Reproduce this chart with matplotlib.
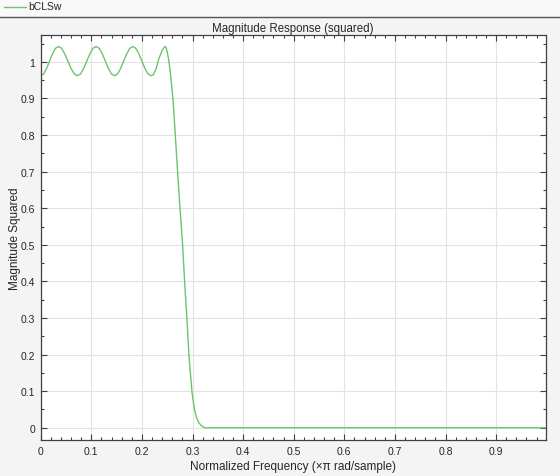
import matplotlib
matplotlib.use("Agg")
import matplotlib.pyplot as plt
from matplotlib.ticker import MultipleLocator, FixedLocator
from matplotlib.lines import Line2D

plt.rcParams['font.family'] = ['Liberation Sans', 'DejaVu Sans']

# Normalized frequency (x pi rad/sample) and magnitude squared
freq = [0.0, 0.0058, 0.0117, 0.0175, 0.0233, 0.0292, 0.035,
        0.0413, 0.0475, 0.0538, 0.06, 0.0663, 0.0725,
        0.0787, 0.0848, 0.091, 0.0972, 0.1033, 0.1095,
        0.1156, 0.1217, 0.1278, 0.1338, 0.1399, 0.146,
        0.152, 0.158, 0.164, 0.170, 0.176, 0.182,
        0.188, 0.194, 0.200, 0.206, 0.212, 0.218,
        0.2227, 0.2278, 0.233, 0.2397, 0.2435, 0.2462,
        0.2485, 0.2509, 0.2535, 0.2562, 0.2594, 0.2615, 0.266, 0.2705, 0.2753,
        0.2806, 0.2845, 0.289, 0.293, 0.299, 0.3037, 0.308, 0.312,
        0.317, 0.3215, 0.3255, 0.33, 0.998]
mag2 = [0.962, 0.967, 0.982, 1.002, 1.022, 1.037, 1.042,
        1.037, 1.022, 1.002, 0.982, 0.967, 0.962,
        0.967, 0.982, 1.002, 1.022, 1.037, 1.042,
        1.037, 1.022, 1.002, 0.982, 0.967, 0.962,
        0.967, 0.982, 1.002, 1.022, 1.037, 1.042,
        1.037, 1.022, 1.002, 0.982, 0.967, 0.962,
        0.965, 0.980, 1.007, 1.030, 1.039, 1.042,
        1.036, 1.021, 1.0, 0.971, 0.926, 0.898, 0.8, 0.7, 0.6,
        0.497, 0.397, 0.297, 0.197, 0.097, 0.051, 0.028, 0.015,
        0.006, 0.002, 0.0, 0.0, 0.0]

series_name = "bCLSw"
title = "Magnitude Response (squared)"
xlabel = "Normalized Frequency (\u00d7\u03c0 rad/sample)"
ylabel = "Magnitude Squared"
xticks = [0, 0.1, 0.2, 0.3, 0.4, 0.5, 0.6, 0.7, 0.8, 0.9]
yticks = [0, 0.1, 0.2, 0.3, 0.4, 0.5, 0.6, 0.7, 0.8, 0.9, 1]

W, H = 560, 477
fig = plt.figure(figsize=(W / 100, H / 100), dpi=100)
fig.patch.set_facecolor('#f4f4f4')

# legend strip
strip = fig.add_axes([0, 1 - 17.5 / H, 1, 17.5 / H])
strip.set_facecolor('#f9f9f9')
strip.set_xlim(0, W)
strip.set_ylim(0, 17.5)
strip.set_xticks([])
strip.set_yticks([])
for s in ['top', 'left', 'right']:
    strip.spines[s].set_visible(False)
strip.spines['bottom'].set_color('#555555')
strip.spines['bottom'].set_linewidth(1.0)

line_color = '#6cc46c'
strip.add_line(Line2D([4, 26], [10, 10], color=line_color, lw=1.0))
strip.text(28, 10, series_name, fontsize=7.5, color='#262626', va='center', ha='left')

ax = fig.add_axes([40.7 / W, (H - 441) / H, 505 / W, 405 / H])
ax.set_facecolor('white')
ax.plot(freq, mag2, color=line_color, lw=1.0)

ax.set_xlim(0, 0.998)
ax.set_ylim(-0.0334, 1.0734)
ax.xaxis.set_major_locator(FixedLocator(xticks))
ax.yaxis.set_major_locator(FixedLocator(yticks))
ax.xaxis.set_minor_locator(MultipleLocator(0.02))
ax.yaxis.set_minor_locator(MultipleLocator(0.05))
ax.set_xticklabels([f"{v:g}" for v in xticks])
ax.set_yticklabels([f"{v:g}" for v in yticks])

ax.grid(True, which='major', color='#e3e3e3', lw=0.8)
ax.set_axisbelow(True)
ax.tick_params(which='both', direction='in', top=True, right=True,
               colors='#404040', labelcolor='#262626', labelsize=7.5, width=0.8)
ax.tick_params(which='major', length=4, pad=4)
ax.tick_params(which='minor', length=2.5)
for s in ax.spines.values():
    s.set_color('#404040')
    s.set_linewidth(0.9)

ax.set_title(title, fontsize=8.3, color='#262626', pad=3)
ax.set_xlabel(xlabel, fontsize=8.5, color='#262626', labelpad=3)
ax.set_ylabel(ylabel, fontsize=8.5, color='#262626', labelpad=0)

fig.savefig('out.png', dpi=100, facecolor=fig.get_facecolor())
